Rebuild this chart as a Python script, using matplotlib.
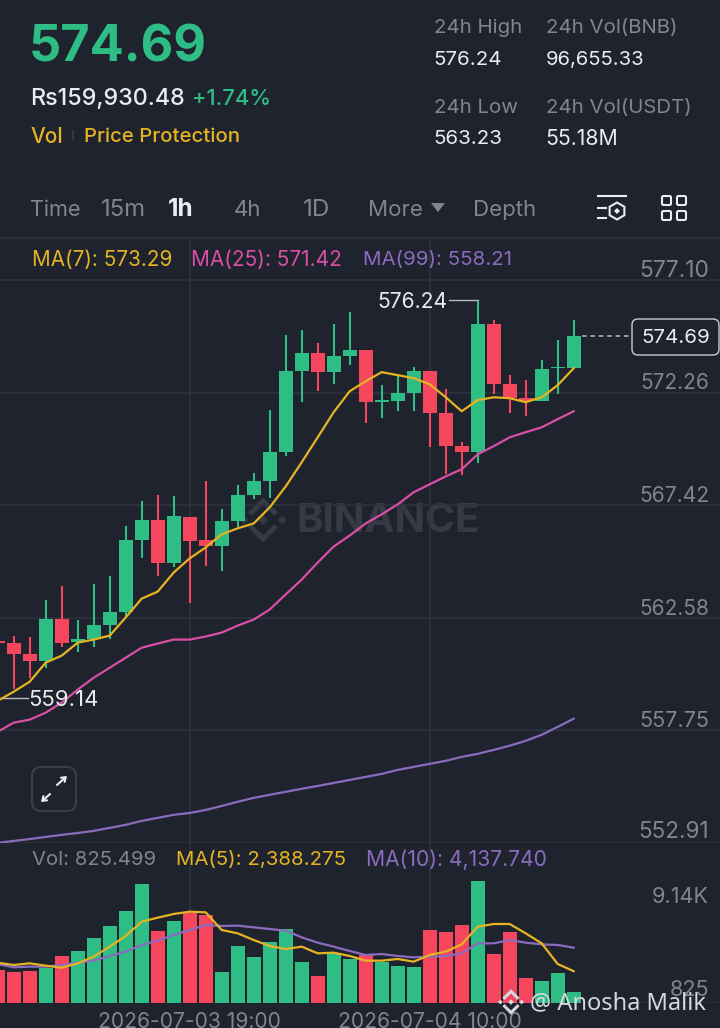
import matplotlib
matplotlib.use("Agg")
import matplotlib.pyplot as plt
from matplotlib.patches import FancyBboxPatch, Polygon, RegularPolygon

W, H = 720, 1028
BG = "#1e232e"
GRID = "#2e333d"
GREEN = "#2EBD85"
RED = "#F6465D"
YEL = "#E6B422"
PINK = "#D94FA5"
PUR = "#8C6BBF"
GREY = "#7f8690"
WHITE = "#EAECEF"

plt.rcParams["font.family"] = ["Inter", "DejaVu Sans"]

opens = [561.60, 561.52, 561.05, 560.75, 562.55, 561.56, 561.69, 562.29, 562.85, 565.91, 566.77, 564.96, 566.90,
         565.91, 565.65, 566.73, 567.85, 568.45, 569.70, 573.18, 573.96, 573.14, 573.83, 574.09, 571.85, 571.89,
         572.24, 573.18, 571.38, 569.96, 569.70, 575.21, 572.62, 572.02, 571.89, 573.31, 573.31]
closes = [561.52, 561.05, 560.75, 562.55, 561.52, 561.69, 562.29, 562.85, 565.91, 566.77, 564.96, 566.94, 565.87,
          565.65, 566.73, 567.85, 568.45, 569.70, 573.18, 573.96, 573.14, 573.83, 574.09, 571.85, 571.94, 572.24,
          573.18, 571.38, 569.96, 569.70, 575.21, 572.62, 572.02, 571.89, 573.27, 573.36, 574.69]
highs = [562.00, 561.82, 561.74, 563.33, 563.97, 562.47, 564.02, 564.40, 566.51, 567.59, 567.85, 567.80, 566.90,
         568.45, 567.24, 568.28, 568.79, 571.50, 574.73, 574.95, 574.39, 575.21, 575.72, 574.09, 572.58, 572.97,
         573.36, 573.18, 572.41, 570.13, 576.24, 575.38, 573.01, 572.80, 573.66, 574.52, 575.38]
lows = [559.14, 559.54, 560.01, 560.44, 561.35, 561.13, 561.35, 561.69, 562.64, 565.14, 564.36, 564.75, 563.24,
        564.83, 564.58, 566.47, 567.67, 567.72, 569.53, 571.85, 572.32, 572.62, 573.44, 570.95, 571.16, 571.46,
        571.46, 569.91, 568.75, 568.71, 569.22, 572.19, 571.38, 571.25, 571.89, 572.19, 573.31]
ma7 = [559.02, 559.41, 559.84, 560.66, 560.96, 561.52, 561.65, 561.82, 562.60, 563.41, 563.71, 564.53, 565.14,
       565.61, 566.17, 566.43, 566.64, 567.33, 568.23, 569.27, 570.34, 571.42, 572.32, 572.75, 573.14, 573.01,
       572.88, 572.62, 572.06, 571.46, 571.94, 572.06, 572.02, 571.85, 572.06, 572.58, 573.31]
ma25 = [557.69, 558.08, 558.21, 558.51, 558.94, 559.50, 560.01, 560.44, 560.87, 561.30, 561.48, 561.65, 561.65,
        561.78, 561.95, 562.25, 562.51, 562.94, 563.59, 564.23, 564.96, 565.65, 566.12, 566.64, 567.03, 567.46,
        567.98, 568.32, 568.66, 568.97, 569.61, 569.96, 570.34, 570.56, 570.77, 571.12, 571.46]
ma99 = [552.91, 553.00, 553.08, 553.17, 553.26, 553.34, 553.43, 553.56, 553.69, 553.86, 553.99, 554.12, 554.20,
        554.33, 554.50, 554.68, 554.85, 554.98, 555.11, 555.24, 555.36, 555.49, 555.62, 555.75, 555.88, 556.05,
        556.18, 556.31, 556.44, 556.61, 556.74, 556.91, 557.09, 557.30, 557.56, 557.90, 558.25]
volumes = [2475, 2350, 2425, 2600, 3525, 3900, 4900, 5750, 6900, 8900, 5425, 6175, 6725, 6600, 2325, 4275, 3425,
           4550, 5550, 3050, 2050, 3725, 3275, 3600, 3100, 2775, 2725, 5475, 5350, 5875, 9150, 3675, 5350, 1850,
           1675, 2275, 825.5]
vol_ma5 = [3025, 2850, 2975, 2800, 2650, 2975, 3475, 4225, 5025, 6100, 6400, 6675, 6850, 6800, 5475, 5225, 4725,
           4275, 4050, 4225, 3725, 3775, 3525, 3175, 3175, 3300, 3100, 3600, 3850, 4400, 5725, 5925, 5925, 5225,
           4475, 2925, 2388]
vol_ma10 = [2925, 2675, 2725, 2725, 2850, 3025, 3175, 3525, 3850, 4350, 4675, 5100, 5475, 5850, 5775, 5800, 5675,
            5550, 5425, 4925, 4525, 4225, 3900, 3600, 3675, 3525, 3425, 3475, 3525, 3725, 4475, 4475, 4725, 4525,
            4400, 4350, 4150]
price_ticks = [577.10, 572.26, 567.42, 562.58, 557.75, 552.91]
time_ticks = [12, 27]
time_labels = ["2026-07-03 19:00", "2026-07-04 10:00"]
last_price = 574.69
hi_idx, hi_val = 30, 576.24
lo_idx, lo_val = 0, 559.14

fig = plt.figure(figsize=(W / 100, H / 100), dpi=100, facecolor=BG)


def rect(top, bottom):
    return [0, 1 - bottom / H, 1, (bottom - top) / H]


under = fig.add_axes([0, 0, 1, 1], zorder=0)
under.set_xlim(0, W)
under.set_ylim(H, 0)
under.axis("off")
ax = fig.add_axes(rect(239, 843), zorder=1)
vx = fig.add_axes(rect(843, 1003), zorder=2)
top = fig.add_axes([0, 0, 1, 1], zorder=5)
top.set_xlim(0, W)
top.set_ylim(H, 0)
top.axis("off")

xs = list(range(len(opens)))
colors = [GREEN if c >= o else RED for o, c in zip(opens, closes)]
xlim = (2.3 / 16, 722.3 / 16)

# price pane
ax.patch.set_visible(False)
ax.set_xlim(*xlim)
ax.set_ylim(552.91, 578.86)
ax.set_yticks(price_ticks)
ax.set_xticks(time_ticks)
ax.tick_params(length=0, labelleft=False, labelbottom=False)
ax.grid(True, color=GRID, lw=1.1)
ax.set_axisbelow(True)
for s in ax.spines.values():
    s.set_visible(False)
ax.vlines(xs, lows, highs, colors=colors, lw=1.5, zorder=2)
ax.bar(xs, [abs(c - o) for o, c in zip(opens, closes)], bottom=[min(o, c) for o, c in zip(opens, closes)],
       width=0.89, color=colors, lw=0, zorder=3)
ax.plot(xs, ma99, color=PUR, lw=1.6, zorder=4)
ax.plot(xs, ma25, color=PINK, lw=1.6, zorder=4)
ax.plot(xs, ma7, color=YEL, lw=1.6, zorder=4)
ax.plot([hi_idx - 1.8, hi_idx], [hi_val, hi_val], color="#b5b9c0", lw=1, zorder=2)
ax.annotate(f"{hi_val:.2f}", (hi_idx - 1.9, hi_val), xytext=(0, -1.4), textcoords="offset points",
            ha="right", va="center", color=WHITE, fontsize=15.2, zorder=6)
ax.plot([lo_idx, lo_idx + 1.9], [lo_val, lo_val], color="#b5b9c0", lw=1, zorder=2)
ax.annotate(f"{lo_val:.2f}", (lo_idx + 1.9, lo_val), xytext=(0, -1.4), textcoords="offset points",
            ha="left", va="center", color=WHITE, fontsize=16, zorder=6)
ax.plot([36.5, 39.6], [last_price, last_price], color="#b5b9c0", lw=1.1, ls=(0, (3, 2.5)), zorder=2)
for p, z in zip(price_ticks, [16.4, 15.0, 15.2, 15.0, 15.6, 16.2]):
    off = 8.2 if p == price_ticks[-1] else 6.6
    ax.annotate(f"{p:.2f}", xy=(1, p), xycoords=("axes fraction", "data"), xytext=(-7.9, off),
                textcoords="offset points", ha="right", va="center", color=GREY, fontsize=z)

# volume pane
vx.patch.set_visible(False)
vx.set_xlim(*xlim)
vx.set_ylim(0, 12000)
vx.set_yticks([0])
vx.set_xticks(time_ticks)
vx.set_xticklabels(time_labels, color=GREY, fontsize=15.2)
vx.tick_params(length=0, labelleft=False, pad=6.5)
vx.grid(True, color=GRID, lw=1.1)
vx.set_axisbelow(True)
for s in vx.spines.values():
    s.set_visible(False)
vx.bar(xs, volumes, width=0.9, color=colors, lw=0, zorder=2)
vx.plot(xs, vol_ma10, color=PUR, lw=1.6, zorder=3)
vx.plot(xs, vol_ma5, color=YEL, lw=1.6, zorder=3)


def logo(a, cx, cy, r, color, lw, zorder=1, alpha=1):
    for dx, dy, sz in [(0, 0, .2), (-.76, 0, .17), (.76, 0, .17)]:
        a.add_patch(Polygon([(cx + dx * r - sz * r, cy), (cx + dx * r, cy - sz * r),
                             (cx + dx * r + sz * r, cy), (cx + dx * r, cy + sz * r)],
                            color=color, lw=0, zorder=zorder, alpha=alpha))
    for sgn in (-1, 1):
        a.plot([cx - .46 * r, cx, cx + .46 * r], [cy + sgn * .3 * r, cy + sgn * .76 * r, cy + sgn * .3 * r],
               color=color, lw=lw, solid_joinstyle="miter", zorder=zorder, alpha=alpha)


# watermark beneath the marks
logo(under, 263, 520, 25, "#353a44", 3.6)
under.text(388, 521, "BINANCE", ha="center", va="center", color="#353a44", fontsize=29, fontweight="bold")
under.plot([0, W], [238, 238], color="#2b3039", lw=1.6)


def T(x, y, s, color=WHITE, size=14.5, weight="normal", ha="left"):
    top.text(x, y + 2, s, color=color, fontsize=size, fontweight=weight, ha=ha, va="center")


T(29, 46, "574.69", GREEN, 36.3, "bold")
T(30, 97, "Rs159,930.48", WHITE, 16.8, "medium")
T(192, 97, "+1.74%", GREEN, 15.8, "medium")
T(30, 135, "Vol", YEL, 15, "medium")
top.plot([72.5, 72.5], [131, 139], color="#3a3f49", lw=1.2)
T(84, 135, "Price Protection", YEL, 14.7, "medium")
T(434, 26, "24h High", GREY, 14.7)
T(433.5, 58, "576.24", WHITE, 14.8)
T(546, 26, "24h Vol(BNB)", GREY, 14.7)
T(546, 58, "96,655.33", WHITE, 14.5)
T(434, 106, "24h Low", GREY, 14.7)
T(433.5, 137, "563.23", WHITE, 14.8)
T(546, 106, "24h Vol(USDT)", GREY, 14.7)
T(545, 137, "55.18M", WHITE, 15.3)
for x, s, z in [(30, "Time", 15.6), (101, "15m", 17.2), (234, "4h", 16), (303, "1D", 17.4), (368, "More", 16), (473, "Depth", 16)]:
    T(x, 208, s, GREY, z)
T(168, 208, "1h", WHITE, 17.5, "bold")
top.add_patch(Polygon([(431, 203), (445, 203), (438, 212)], color=GREY, lw=0))

# menu icon
top.plot([598, 626], [196, 196], color=WHITE, lw=1.5)
top.plot([598, 606], [208, 208], color=WHITE, lw=1.5)
top.plot([598, 606], [218, 218], color=WHITE, lw=1.5)
top.add_patch(RegularPolygon((617, 211), 6, radius=8.5, fill=False, ec=WHITE, lw=1.5))
top.add_patch(RegularPolygon((617, 211), 4, radius=3, color=WHITE, lw=0))
# grid icon
for gx in (661, 676):
    for gy in (195, 210):
        top.add_patch(FancyBboxPatch((gx + 1, gy + 1), 9, 9, boxstyle="round,pad=0,rounding_size=1.5",
                                     fill=False, ec=WHITE, lw=1.5))

# legends
T(32, 258, "MA(7): 573.29", YEL, 14.9)
T(191, 258, "MA(25): 571.42", PINK, 15)
T(363, 258, "MA(99): 558.21", PUR, 14.8)
T(32, 858, "Vol: 825.499", GREY, 14.6)
T(176, 858, "MA(5): 2,388.275", YEL, 14.7)
T(366, 858, "MA(10): 4,137.740", PUR, 15.2)
T(709, 895, "9.14K", GREY, 15.6, ha="right")
T(709, 988, "825", GREY, 15.6, ha="right")

# current price tag
top.add_patch(FancyBboxPatch((632, 319), 87, 36, boxstyle="round,pad=0,rounding_size=6",
                             fc=BG, ec="#c9ccd1", lw=1))
T(641, 336, "574.69", WHITE, 14.8)

# expand button
top.add_patch(FancyBboxPatch((32, 767), 44, 44, boxstyle="round,pad=0,rounding_size=9",
                             fill=False, ec="#3a3f49", lw=1.4))
for (x0, y0, x1, y1) in [(57, 785, 67, 776), (50, 794, 41, 802)]:
    top.annotate("", xy=(x1, y1), xytext=(x0, y0),
                 arrowprops=dict(arrowstyle="->,head_length=0.28,head_width=0.2", color=WHITE, lw=1.5,
                                 shrinkA=0, shrinkB=0))

# user watermark
logo(top, 511, 1002, 14, "#d5d8dd", 2.2, zorder=6)
top.text(530, 1003, "@ Anosha Malik", color="#d5d8dd", fontsize=17, ha="left", va="center",
         family=["Noto Sans", "DejaVu Sans"], zorder=6)

fig.savefig("out.png", dpi=100, facecolor=BG)
